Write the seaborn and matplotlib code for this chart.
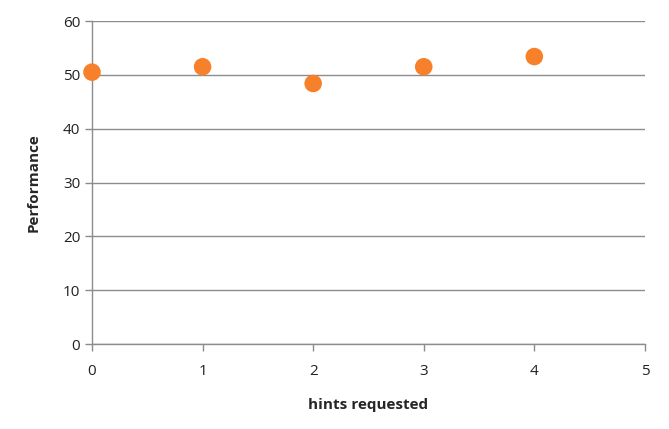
import matplotlib
matplotlib.use('Agg')
import matplotlib.pyplot as plt
import seaborn as sns
import pandas as pd

# dane
hints = [0, 1, 2, 3, 4]
performance = [50.5, 51.5, 48.4, 51.5, 53.4]

df = pd.DataFrame({'hints requested': hints, 'Performance': performance})

sns.set_style('white')
plt.rcParams['font.family'] = ['Open Sans', 'DejaVu Sans']

fig = plt.figure(figsize=(6.69, 4.29), dpi=100)
ax = fig.add_axes([0.1375, 0.198, 0.8265, 0.753])

sns.scatterplot(data=df, x='hints requested', y='Performance', ax=ax,
                color='#f7802a', s=160, edgecolor='none', zorder=3, clip_on=False)

ax.set_xlim(0, 5)
ax.set_ylim(0, 60)
ax.set_xticks(range(0, 6))
ax.set_yticks(range(0, 61, 10))
ax.yaxis.grid(True, color='#8c8c8c', linewidth=1)
ax.xaxis.grid(False)

for side in ['top', 'right']:
    ax.spines[side].set_visible(False)
for side in ['left', 'bottom']:
    ax.spines[side].set_color('#8c8c8c')
    ax.spines[side].set_linewidth(1)

ax.tick_params(axis='both', direction='out', length=5, width=1, color='#8c8c8c',
               labelsize=11, labelcolor='#222222', left=True, bottom=True)
ax.tick_params(axis='x', pad=9)

ax.set_xlabel('hints requested', fontsize=11, fontweight='bold', labelpad=14)
ax.set_ylabel('Performance', fontsize=11, fontweight='bold', labelpad=16)

fig.savefig('out.png', dpi=100)
